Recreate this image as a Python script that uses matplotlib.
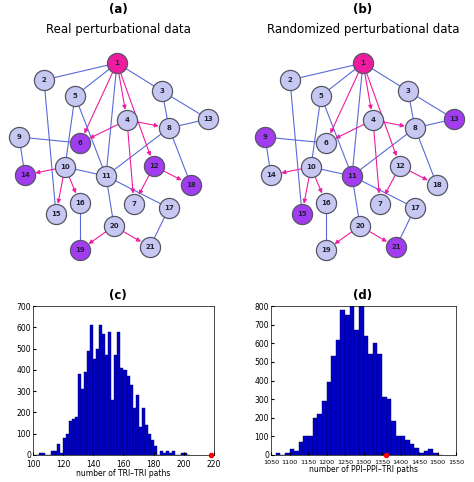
import matplotlib.pyplot as plt
import numpy as np

# node layout (shared by both networks)
nodes = list(range(1, 22))
node_x = [117, 44, 162, 127, 75, 80, 134, 169, 19, 65, 106, 154, 208, 25, 56, 80, 169, 191, 80, 114, 150]
node_y = [63, 80, 91, 120, 96, 143, 204, 128, 137, 167, 176, 166, 119, 175, 214, 203, 208, 185, 250, 226, 247]

blue_edges = [(1, 2), (1, 5), (1, 3), (1, 11), (2, 15), (3, 8), (3, 13), (8, 13), (5, 10), (5, 11),
              (9, 6), (9, 14), (10, 11), (8, 11), (8, 18), (11, 17), (11, 20), (16, 19), (17, 21)]
pink_edges = [(1, 6), (1, 4), (1, 12), (4, 7), (4, 6), (4, 8), (12, 7), (12, 18),
              (10, 14), (10, 15), (10, 16), (20, 19), (20, 21)]

purple_a = [6, 12, 14, 18, 19]
purple_b = [9, 11, 13, 15, 21]

# histogram (c)
tri_left = list(range(102, 204, 2))
tri_counts = [0, 10, 10, 0, 0, 20, 20, 50, 10, 80, 100, 160, 170, 180, 380, 310, 390, 490, 610, 450,
              500, 610, 570, 470, 580, 260, 470, 580, 410, 400, 370, 330, 220, 280, 130, 220, 140, 100,
              70, 40, 0, 20, 10, 20, 10, 20, 0, 0, 10, 10, 0]
tri_real = 218

# histogram (d)
ppi_left = [1062.5 + 12.5 * i for i in range(36)]
ppi_counts = [10, 0, 10, 30, 20, 70, 100, 100, 200, 220, 290, 390, 530, 620, 780, 750, 800, 670, 800,
              640, 540, 600, 540, 310, 300, 180, 100, 100, 80, 60, 40, 10, 20, 30, 10, 0]
ppi_real = 1360

LIGHT = '#c6c8f2'
PURPLE = '#a23cf0'
MAGENTA = '#f01ca0'
EDGE_BLUE = '#5a6ad8'

W, H = 474, 482
fig = plt.figure(figsize=(4.74, 4.82), dpi=100)


def draw_net(ax, purple):
    pos = {n: (x, y) for n, x, y in zip(nodes, node_x, node_y)}
    for a, b in blue_edges:
        ax.plot([pos[a][0], pos[b][0]], [pos[a][1], pos[b][1]], color=EDGE_BLUE, lw=0.8, zorder=1)
    for a, b in pink_edges:
        ax.annotate('', xy=pos[b], xytext=pos[a],
                    arrowprops=dict(arrowstyle='-|>', color=MAGENTA, lw=0.8, mutation_scale=6,
                                    shrinkA=0, shrinkB=7.5), zorder=2)
    for n in nodes:
        c = MAGENTA if n == 1 else (PURPLE if n in purple else LIGHT)
        ax.scatter(*pos[n], s=210, color=c, edgecolors='#555566', linewidths=0.9, zorder=3)
        ax.text(*pos[n], str(n), ha='center', va='center', fontsize=5, fontweight='bold',
                color='#222233', zorder=4)
    ax.set_xlim(0, 237)
    ax.set_ylim(280, 40)
    ax.axis('off')


ax_a = fig.add_axes([0, 1 - 280 / H, 237 / W, 240 / H])
draw_net(ax_a, purple_a)
ax_b = fig.add_axes([246 / W, 1 - 280 / H, 237 / W, 240 / H])
draw_net(ax_b, purple_b)

fig.text(118 / W, 1 - 10 / H, '(a)', ha='center', va='center', fontsize=8.5, fontweight='bold')
fig.text(118 / W, 1 - 30 / H, 'Real perturbational data', ha='center', va='center', fontsize=8.5)
fig.text(363 / W, 1 - 10 / H, '(b)', ha='center', va='center', fontsize=8.5, fontweight='bold')
fig.text(363 / W, 1 - 30 / H, 'Randomized perturbational data', ha='center', va='center', fontsize=8.5)
fig.text(118 / W, 1 - 296 / H, '(c)', ha='center', va='center', fontsize=8.5, fontweight='bold')
fig.text(363 / W, 1 - 296 / H, '(d)', ha='center', va='center', fontsize=8.5, fontweight='bold')

ax_c = fig.add_axes([33 / W, 1 - 455 / H, 181 / W, 149 / H])
ax_c.bar(tri_left, tri_counts, width=2, align='edge', color='#0000c8', edgecolor='#000060', lw=0.3)
ax_c.plot([tri_real], [0], 'o', color='red', ms=3, clip_on=False, zorder=5)
ax_c.set_xlim(100, 220)
ax_c.set_ylim(0, 700)
ax_c.set_xticks(range(100, 221, 20))
ax_c.set_yticks(range(0, 701, 100))
ax_c.set_xlabel('number of TRI\u2013TRI paths', fontsize=5.5, labelpad=0)

ax_d = fig.add_axes([271 / W, 1 - 455 / H, 185 / W, 149 / H])
ax_d.bar(ppi_left, ppi_counts, width=12.5, align='edge', color='#0000c8', edgecolor='#000060', lw=0.3)
ax_d.plot([ppi_real], [0], 'o', color='red', ms=3, clip_on=False, zorder=5)
ax_d.set_xlim(1050, 1550)
ax_d.set_ylim(0, 800)
ax_d.set_xticks(range(1050, 1551, 50))
ax_d.set_yticks(range(0, 801, 100))
ax_d.set_xlabel('number of PPI\u2013PPI\u2013TRI paths', fontsize=5.5, labelpad=0)

ax_c.tick_params(labelsize=5.5, direction='in', length=2, pad=1.5)
ax_d.tick_params(labelsize=5.5, direction='in', length=2, pad=1.5)
ax_c.tick_params(axis='x', pad=3.5)
ax_d.tick_params(axis='x', labelsize=4.6, pad=3.5)
for ax in (ax_c, ax_d):
    for s in ax.spines.values():
        s.set_linewidth(0.5)

fig.savefig('out.png', dpi=100)
